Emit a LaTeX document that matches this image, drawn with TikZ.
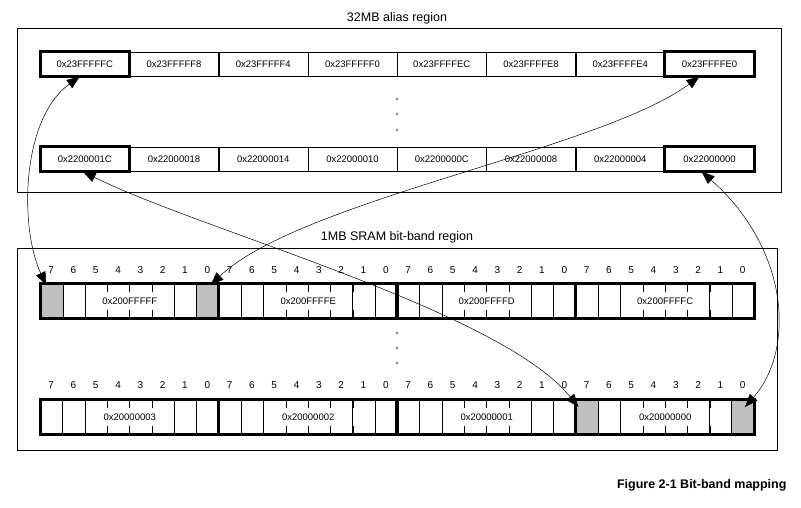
\documentclass[tikz,border=0pt]{standalone}
\usepackage{fontspec}
\setmainfont{Liberation Sans}
\usetikzlibrary{arrows.meta}
\begin{document}
\begin{tikzpicture}[x=1pt,y=-1pt,
  frame/.style={draw,line width=0.6pt},
  cell/.style={draw,line width=0.5pt,minimum width=89pt,minimum height=24pt,inner sep=0pt,anchor=north west,font=\fontsize{9.5}{11}\selectfont},
  hot/.style={line width=3pt},
  bit/.style={draw,line width=0.5pt,minimum width=22.31pt,minimum height=35pt,inner sep=0pt,anchor=north west},
  bitlbl/.style={font=\fontsize{10}{11}\selectfont},
  ttl/.style={font=\fontsize{12.5}{14}\selectfont},
  hexl/.style={fill=white,inner sep=1.5pt,font=\fontsize{9.5}{11}\selectfont},
  dot/.style={circle,draw,line width=0.3pt,inner sep=0pt,minimum size=2.5pt},
  lnk/.style={{Triangle[length=13pt,width=10pt]}-{Triangle[length=13pt,width=10pt]},line width=0.5pt}]
\useasboundingbox (0,0) rectangle (801,508);
% alias region
\node[ttl] (t1) at (397,18) {32MB alias region};
\draw[frame] (17,28) rectangle (781,192);
\foreach \i/\a/\b in {0/23FFFFFC/2200001C,1/23FFFFF8/22000018,2/23FFFFF4/22000014,3/23FFFFF0/22000010,4/23FFFFEC/2200000C,5/23FFFFE8/22000008,6/23FFFFE4/22000004,7/23FFFFE0/22000000}{
  \node[cell] (A\i) at ({40+89.25*\i},52) {0x\a};
  \node[cell] (B\i) at ({40+89.25*\i},147) {0x\b};
}
\foreach \n in {A0,A7,B0,B7}{\draw[hot] (\n.north west) rectangle (\n.south east);}
\node[dot] (d1) at (397,99) {};
\node[dot] (d2) at (397,114) {};
\node[dot] (d3) at (397,130) {};
% bit-band region
\node[ttl] (t2) at (397,237) {1MB SRAM bit-band region};
\draw[frame] (17,248) rectangle (777,450);
\foreach \r/\y/\ly in {U/283/270,L/399/385}{
  \foreach \k in {0,...,31}{
    \pgfmathtruncatemacro{\bb}{7-mod(\k,8)}
    \node[bitlbl] (\r l\k) at ({51.15+22.31*\k},\ly) {\bb};
    \pgfmathtruncatemacro{\m}{mod(\k,8)}
    \ifnum\m<2
      \node[bit] (\r\k) at ({40+22.31*\k},\y) {};
    \else\ifnum\m>5
      \node[bit] (\r\k) at ({40+22.31*\k},\y) {};
    \else
      \node[bit,draw=none] (\r\k) at ({40+22.31*\k},\y) {};
      \draw[line width=0.5pt] (\r\k.north east) -- ++(0,9) (\r\k.south east) -- ++(0,-9);
    \fi\fi
  }
}
\foreach \k in {0,7}{\fill[gray!50,draw=black,line width=0.5pt] (U\k.north west) rectangle (U\k.south east);}
\foreach \k in {24,31}{\fill[gray!50,draw=black,line width=0.5pt] (L\k.north west) rectangle (L\k.south east);}
\foreach \r/\a/\b/\c/\d in {U/200FFFFF/200FFFFE/200FFFFD/200FFFFC,L/20000003/20000002/20000001/20000000}{
  \node[hexl] (\r n0) at (\r3.east) {0x\a};
  \node[hexl] (\r n1) at (\r11.east) {0x\b};
  \node[hexl] (\r n2) at (\r19.east) {0x\c};
  \node[hexl] (\r n3) at (\r27.east) {0x\d};
  \foreach \s/\e in {0/7,8/15,16/23,24/31}{\draw[hot] (\r\s.north west) rectangle (\r\e.south east);}
}
\node[dot] (d4) at (397,333) {};
\node[dot] (d5) at (397,348) {};
\node[dot] (d6) at (397,363) {};
% links
\draw[lnk] ([xshift=-5pt]A0.south) .. controls (20,120) and (20,230) .. ([xshift=-5pt,yshift=-2pt]U0.north);
\draw[lnk] ([xshift=-10pt]A7.south) .. controls (600,150) and (300,200) .. ([xshift=3pt,yshift=-2pt]U7.north);
\draw[lnk] ([xshift=-2pt]B0.south) .. controls (200,230) and (500,310) .. ([xshift=3pt,yshift=-8pt]L24.north west);
\draw[lnk] ([xshift=-8pt]B7.south) .. controls (790,250) and (795,350) .. ([xshift=2pt,yshift=-8pt]L31.north);
\node[font=\bfseries\fontsize{12.5}{14}\selectfont,anchor=east] (cap) at (790,485) {Figure 2-1 Bit-band mapping};
\end{tikzpicture}
\end{document}
